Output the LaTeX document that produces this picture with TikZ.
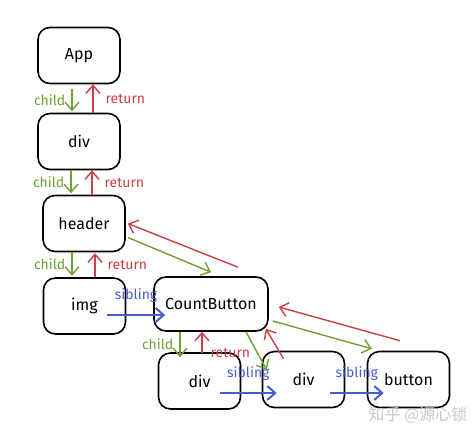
\documentclass[tikz,border=0pt]{standalone}
\usepackage{fontspec}
\setmainfont{Fira Sans}
\newfontfamily\cjk{Noto Sans CJK SC}
\usetikzlibrary{arrows.meta}
\definecolor{childgreen}{RGB}{112,160,52}
\definecolor{retred}{RGB}{205,62,72}
\definecolor{sibblue}{RGB}{72,92,205}
\definecolor{markgrey}{RGB}{200,200,200}

\begin{document}
\begin{tikzpicture}[x=0.5pt,y=-0.5pt,>={Straight Barb[length=4pt,width=7pt]}]
    \tikzset{%
      fiber/.style={draw, rounded corners=6pt, line width=0.8pt, minimum
        width=41pt, minimum height=28pt, inner sep=0pt, font=\footnotesize},
      wide/.style={minimum width=57pt, minimum height=27pt},
      childarrow/.style={->, childgreen, line width=0.7pt},
      retarrow/.style={->, retred, line width=0.7pt},
      sibarrow/.style={->, sibblue, line width=1pt},
      clbl/.style={childgreen, font=\scriptsize, inner sep=1pt},
      rlbl/.style={retred, font=\scriptsize, inner sep=1pt},
      slbl/.style={sibblue, font=\scriptsize, inner sep=1pt},
    }
    \useasboundingbox (0,0) rectangle (474,439);
    \node[fiber] (App) at (79,55.5) {App};
    \node[fiber] (div1) at (79,141.5) {div};
    \node[fiber] (header) at (84,223.5) {header};
    \node[fiber] (img) at (84.5,306) {img};
    \node[fiber, wide] (CB) at (211,304) {CountButton};
    \node[fiber] (div2) at (199.5,381) {div};
    \node[fiber] (div3) at (303.5,379.5) {div};
    \node[fiber] (button) at (408.5,379.5) {button};

    % App / div
    \draw [childarrow] ([xshift=-3.5pt,yshift=-2.5pt]App.south) --
      ([xshift=-3.5pt,yshift=0.75pt]div1.north)
      node[midway, left=2pt, clbl] (c1) {child};
    \draw [retarrow] ([xshift=7pt]div1.north) -- ([xshift=7pt]App.south)
      node[midway, right=5pt, rlbl] (r1) {return};

    % div / header
    \draw [childarrow] ([xshift=-4pt]div1.south) --
      ([xshift=-6.5pt,yshift=0.75pt]header.north)
      node[midway, left=2pt, clbl] (c2) {child};
    \draw [retarrow] ([xshift=4pt]header.north) -- ([xshift=6.5pt]div1.south)
      node[midway, right=5pt, rlbl] (r2) {return};

    % header / img
    \draw [childarrow] ([xshift=-6pt]header.south) --
      ([xshift=-6.25pt,yshift=0.75pt]img.north)
      node[midway, left=2pt, clbl] (c3) {child};
    \draw [retarrow] ([xshift=5.25pt]img.north) --
      ([xshift=5.5pt,yshift=-0.5pt]header.south)
      node[midway, right=5pt, rlbl] (r3) {return};

    % header / CountButton
    \draw [childarrow] ([xshift=1pt,yshift=-7pt]header.east) --
      ([yshift=2pt]CB.north);
    \draw [retarrow] ([xshift=13.5pt,yshift=4.5pt]CB.north) --
      ([xshift=1pt]header.east);

    % img / CountButton
    \draw [sibarrow] ([xshift=11.25pt,yshift=-4.5pt]img.center) --
      ([xshift=6pt,yshift=-5.5pt]CB.west)
      node[midway, above=5pt, slbl] (s1) {sibling};

    % CountButton / div
    \draw [childarrow] ([xshift=-15.5pt]CB.south) --
      ([xshift=-9.75pt,yshift=-2.5pt]div2.north)
      node[midway, left=2pt, clbl] (c4) {child};
    \draw [retarrow] ([xshift=1.25pt,yshift=-0.5pt]div2.north) --
      ([xshift=-4.5pt]CB.south)
      node[pos=0, right=3pt, rlbl] (r4) {return};

    % CountButton / div
    \draw [childarrow] ([xshift=17.5pt]CB.south) --
      ([xshift=2.5pt,yshift=4.75pt]div3.west);
    \draw [retarrow] ([xshift=-10pt,yshift=-4pt]div3.north) --
      ([xshift=-1.5pt,yshift=1.5pt]CB.south east);

    % CountButton / button
    \draw [childarrow] ([xshift=2pt,yshift=-8.5pt]CB.east) --
      ([xshift=2.5pt,yshift=1pt]button.north west);
    \draw [retarrow] ([xshift=-4.25pt,yshift=5pt]button.north) --
      ([xshift=5pt,yshift=-1.5pt]CB.east);

    % siblings
    \draw [sibarrow] ([xshift=10.25pt,yshift=-6pt]div2.center) --
      ([xshift=7.5pt,yshift=-6.75pt]div3.west)
      node[midway, above=5pt, slbl] (s2) {sibling};
    \draw [sibarrow] ([xshift=13.25pt,yshift=-6.75pt]div3.center) --
      ([xshift=8.5pt,yshift=-6.75pt]button.west)
      node[midway, above=5pt, slbl] (s3) {sibling};

    \node[markgrey, font=\cjk\footnotesize] (mark) at (418,415) {知乎 @源心锁};
\end{tikzpicture}
\end{document}
